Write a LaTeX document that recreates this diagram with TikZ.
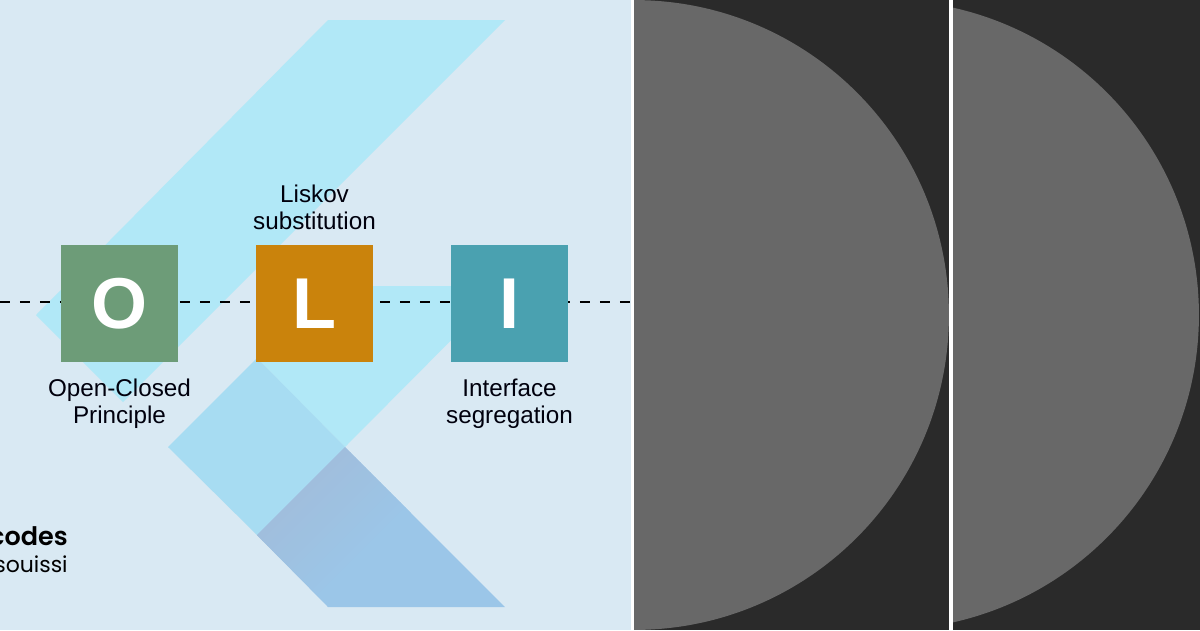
\documentclass[tikz,border=0pt]{standalone}
\usepackage{fontspec}
\setmainfont{Liberation Sans}
\newfontfamily\brandfont[BoldFont={Poppins SemiBold}]{Poppins}
\definecolor{panelbg}{HTML}{D9E9F3}
\definecolor{panelgap}{HTML}{FFFFFF}
\definecolor{paneldark}{HTML}{2A2A2A}
\definecolor{discgray}{HTML}{686868}
\definecolor{bandtop}{HTML}{B1E8F7}
\definecolor{banddiamond}{HTML}{A7DCF2}
\definecolor{bandlow}{HTML}{9BC6E8}
\definecolor{bandfold}{HTML}{A0BEDD}
\definecolor{boxgreen}{HTML}{6D9C78}
\definecolor{boxorange}{HTML}{CA830C}
\definecolor{boxteal}{HTML}{4AA1B0}
\begin{document}
\begin{tikzpicture}[x=0.02cm,y=-0.02cm]
\tikzstyle{solidbox}=[rectangle,minimum size=2.34cm,inner sep=0pt,text=white,font=\fontsize{41}{41}\selectfont\bfseries]
\tikzstyle{caption}=[align=center,text=black!95!blue,font=\fontsize{13.8}{15.3}\selectfont]
\tikzstyle{brand}=[anchor=east,inner sep=0pt,text=black]
\tikzstyle{guide}=[draw=black,line width=0.7pt,dash pattern=on 0.2cm off 0.2cm]
\useasboundingbox (0,0) rectangle (1200,630);
% panels
\fill[panelbg] (0,0) rectangle (631,630);
\fill[panelgap] (631,0) rectangle (1200,630);
\fill[paneldark] (634,0) rectangle (949,630);
\fill[paneldark] (953,0) rectangle (1200,630);
\begin{scope}
\clip (634,0) rectangle (949,630);
\fill[discgray] (634,315) circle (6.3cm);
\end{scope}
\begin{scope}
\clip (953,0) rectangle (1200,630);
\fill[discgray] (884,315) circle (6.3cm);
\end{scope}
% logo
\fill[bandtop] (328,20) -- (505,20) -- (123,402) -- (36,315) -- cycle;
\fill[bandtop] (328,286) -- (505,286) -- (345,447) -- (257,358) -- cycle;
\fill[banddiamond] (257,358) -- (345,447) -- (257,535) -- (168,447) -- cycle;
\fill[bandlow] (345,447) -- (505,607) -- (328,607) -- (257,535) -- cycle;
\foreach \d [evaluate=\d as \mix using 100-\d*1.6] in {0,5,...,60}
  \fill[bandfold!\mix!bandlow] (345+\d,447+\d) -- (351+\d,453+\d) -- (263+\d,541+\d) -- (257+\d,535+\d) -- cycle;
% guide line
\coordinate (lineleft) at (0,302);
\coordinate (lineright) at (631,302);
\draw[guide] (lineleft) -- (lineright);
% boxes
\node [solidbox,fill=boxgreen] (boxO) at (119.5,303.5) {O};
\node [solidbox,fill=boxorange] (boxL) at (314.5,303.5) {L};
\node [solidbox,fill=boxteal] (boxI) at (509.5,303.5) {I};
\node [caption] (capO) at (119.5,404) {Open-Closed\\Principle};
\node [caption] (capL) at (314.5,207) {Liskov\\substitution};
\node [caption] (capI) at (509.5,404) {Interface\\segregation};
\node [brand,font=\brandfont\fontsize{14.5}{14.5}\selectfont\bfseries] (brandtop) at (68,536) {codes};
\node [brand,font=\brandfont\fontsize{12.5}{12.5}\selectfont\mdseries] (brandlow) at (68,564) {souissi};
\end{tikzpicture}
\end{document}
